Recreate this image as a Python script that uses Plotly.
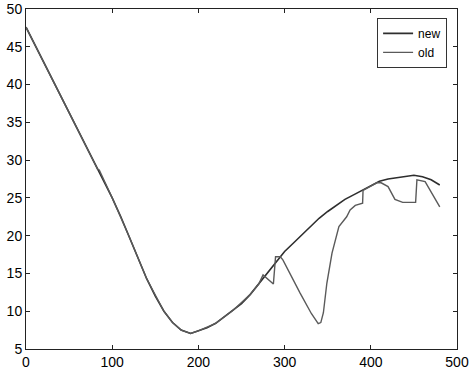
import plotly.graph_objects as go

# "new" series
new_x = [0, 20, 40, 60, 80, 100, 110, 120, 130, 140, 150, 160, 170, 180, 191,
         200, 210, 220, 230, 240, 250, 260, 270, 280, 290, 300, 310, 320, 330,
         340, 350, 360, 370, 380, 390, 400, 410, 420, 430, 440, 450, 460, 470, 480]
new_y = [47.6, 43.1, 38.5, 34.0, 29.5, 25.0, 22.5, 19.8, 17.0, 14.3, 12.0, 10.0, 8.5, 7.5, 7.05,
         7.4, 7.8, 8.4, 9.3, 10.1, 11.0, 12.2, 13.6, 15.0, 16.5, 17.9, 19.0, 20.1, 21.2,
         22.3, 23.2, 24.0, 24.8, 25.4, 26.0, 26.6, 27.2, 27.5, 27.7, 27.9, 28.0, 27.8, 27.4, 26.7]

# "old" series
old_x = [0, 20, 40, 60, 80, 83, 85, 100, 120, 140, 160, 170, 180, 191, 200, 220, 240,
         260, 270, 275, 287, 289.5, 295, 298, 318, 331, 339, 342, 345, 349, 355, 363,
         372, 376, 382, 389, 390.5, 391, 400, 407, 412, 420, 428, 437, 452, 453.5, 463, 480]
old_y = [47.6, 43.1, 38.5, 34.0, 29.5, 28.8, 28.7, 25.0, 19.8, 14.3, 10.0, 8.5, 7.5, 7.05, 7.4, 8.4, 10.1,
         12.2, 13.6, 14.8, 13.6, 17.2, 17.2, 16.8, 12.4, 9.7, 8.35, 8.5, 9.8, 13.7, 17.7, 21.2,
         22.5, 23.4, 24.0, 24.2, 24.3, 26.0, 26.6, 27.0, 27.0, 26.5, 24.8, 24.4, 24.4, 27.4, 27.15, 23.8]

x_ticks = [0, 100, 200, 300, 400, 500]
y_ticks = [5, 10, 15, 20, 25, 30, 35, 40, 45, 50]

fig = go.Figure()
fig.add_trace(go.Scatter(x=new_x, y=new_y, mode="lines", name="new",
                         line=dict(color="#2e2e2e", width=1.6)))
fig.add_trace(go.Scatter(x=old_x, y=old_y, mode="lines", name="old",
                         line=dict(color="#5a5a5a", width=1.4)))

axis_common = dict(showgrid=False, zeroline=False, showline=True, linecolor="#222",
                   linewidth=1, mirror="ticks", ticks="inside", ticklen=4,
                   tickcolor="#222", automargin=False,
                   tickfont=dict(family="Liberation Sans", size=14, color="#000"))

fig.update_xaxes(range=[0, 500], tickvals=x_ticks, **axis_common)
fig.update_yaxes(range=[5, 50], tickvals=y_ticks, **axis_common)

fig.update_layout(
    width=474, height=372,
    margin=dict(l=26, r=17, t=9, b=23, autoexpand=False),
    paper_bgcolor="white", plot_bgcolor="white",
    font=dict(family="Liberation Sans", size=13, color="#000"),
    showlegend=True,
    legend=dict(x=0.977, y=0.974, xanchor="right", yanchor="top",
                bordercolor="#333", borderwidth=1, bgcolor="white",
                font=dict(size=12), tracegroupgap=0, itemwidth=30),
)

fig.write_html("out.html")
